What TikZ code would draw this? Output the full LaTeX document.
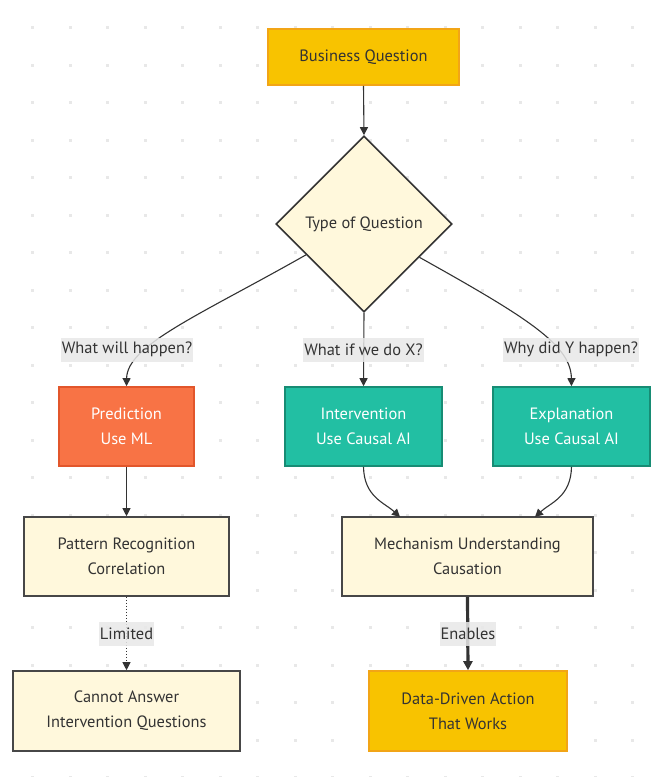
\documentclass[tikz,border=0pt]{standalone}
\usepackage{fontspec}
\setmainfont{PT Sans}
\usetikzlibrary{arrows.meta,shapes.geometric}
\definecolor{goldfill}{HTML}{F8C300}
\definecolor{golddraw}{HTML}{F2A516}
\definecolor{orfill}{HTML}{F87345}
\definecolor{ordraw}{HTML}{E2562B}
\definecolor{tealfill}{HTML}{22BFA3}
\definecolor{tealdraw}{HTML}{178C74}
\definecolor{creamfill}{HTML}{FFF8DC}
\definecolor{ink}{HTML}{333333}
\definecolor{dotc}{HTML}{E8E8E8}
\definecolor{lblbg}{HTML}{E8E8E8}
\tikzset{
  txt/.style={font=\fontsize{16.4}{25}\selectfont, align=center, inner sep=0pt},
  box/.style={txt, draw, rectangle, line width=1.6pt, text=ink},
  goldbox/.style={box, fill=goldfill, draw=golddraw},
  orbox/.style={box, fill=orfill, draw=ordraw, text=white},
  tealbox/.style={box, fill=tealfill, draw=tealdraw, text=white},
  creambox/.style={box, fill=creamfill, draw=ink!90},
  arr/.style={draw=ink, line width=1.1pt, -{Triangle[length=8pt,width=8pt]}},
  lbl/.style={txt, fill=lblbg, fill opacity=0.85, text opacity=1, text=ink, minimum height=24pt, inner xsep=1pt}
}
\begin{document}
\begin{tikzpicture}[x=1pt,y=-1pt]
\useasboundingbox[fill=white] (0,0) rectangle (667,777);
% background dots
\foreach \i in {0,...,17}{
  \foreach \j in {0,...,20}{
    \fill[dotc] (32.5+37.5*\i-1.5, 27.5+37.5*\j-1.5) rectangle ++(3,3);
  }
}
% nodes
\node[goldbox, minimum width=191pt, minimum height=56pt] (bq) at (363.5,57) {Business Question};
\node[txt, diamond, draw=ink, line width=1.6pt, fill=creamfill, text=ink, minimum width=176pt, minimum height=176pt] (q) at (364,224) {Type of Question};
\node[orbox, minimum width=135pt, minimum height=79pt] (pred) at (126.5,426.5) {Prediction\\Use ML};
\node[tealbox, minimum width=157pt, minimum height=79pt] (int) at (363.5,426.5) {Intervention\\Use Causal AI};
\node[tealbox, minimum width=157pt, minimum height=79pt] (exp) at (571.5,426.5) {Explanation\\Use Causal AI};
\node[creambox, minimum width=205pt, minimum height=79pt] (pat) at (126.5,556.5) {Pattern Recognition\\Correlation};
\node[creambox, minimum width=251pt, minimum height=79pt] (mech) at (467.5,556.5) {Mechanism Understanding\\Causation};
\node[creambox, minimum width=227pt, minimum height=80pt] (cant) at (126.5,711) {Cannot Answer\\Intervention Questions};
\node[goldbox, minimum width=198pt, minimum height=80pt] (act) at (468,711) {Data-Driven Action\\That Works};
% edges
\draw[arr] (bq.south) -- (q.north);
\draw[arr] (q.208) .. controls (200,315) and (127,345) .. (pred.north);
\draw[arr] (q.south) -- (int.north);
\draw[arr] (q.-31) .. controls (528,318) and (571,345) .. (exp.north);
\draw[arr] (pred.south) -- (pat.north);
\coordinate (m1) at (400,517);
\coordinate (m2) at (535,517);
\draw[arr] (int.south) .. controls (364,497) and (385,503) .. (m1);
\draw[arr] (exp.south) .. controls (571,497) and (550,503) .. (m2);
\draw[arr, dash pattern=on 1.2pt off 1.8pt] (pat.south) -- (cant.north);
\draw[arr, line width=3.2pt, -{Triangle[length=9pt,width=9pt]}] (mech.south) -- (act.north);
% edge labels
\node[lbl] (l1) at (127,349.5) {What will happen?};
\node[lbl] (l2) at (363.5,349.5) {What if we do X?};
\node[lbl] (l3) at (571,349.5) {Why did Y happen?};
\node[lbl] (l4) at (126.5,634) {Limited};
\node[lbl] (l5) at (468,634) {Enables};
\end{tikzpicture}
\end{document}
